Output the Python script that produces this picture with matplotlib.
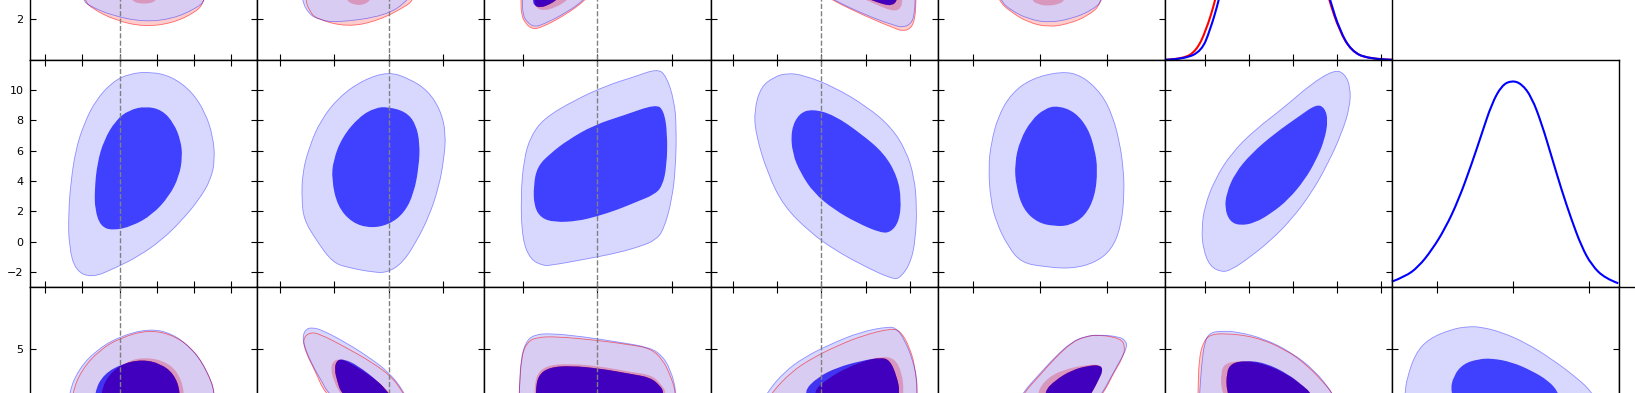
"""
Recorte de um triangle plot (estilo GetDist): duas cadeias, vermelho e azul.
Contornos 2D de 68%/95% lidos da figura como vértices; curvas 1D na diagonal.
"""

import numpy as np
import matplotlib
matplotlib.use("Agg")
import matplotlib.pyplot as plt
from matplotlib.path import Path
from matplotlib.patches import PathPatch

# ---------------------------------------------------------------- eixos
COL_XLIM = [(-0.408, 5.684), (-0.428, 3.758), (-0.525, 2.522), (-0.5, 4.636),
            (-0.524, 2.864), (1.075, 6.258), (-3.0, 12.0), (-3.0, 8.0)]
COL_XTICKS = [[0, 1, 2, 3, 4, 5], [0, 1, 2, 3], [0, 1, 2], [0, 1, 2, 3, 4],
              [0, 1, 2], [2, 3, 4, 5, 6], [0, 5, 10], [0, 5]]
ROW_YLIM = [(1.075, 6.258), (-3.0, 12.0), (-3.0, 8.0)]
ROW_YTICKS = [[2], [-2, 0, 2, 4, 6, 8, 10], [5]]   # só os que aparecem no recorte
TRUTH = [2, 2, 1, 2]          # linhas tracejadas nas colunas 1-4

# ---------------------------------------------------------------- linha de cima
T1_BLUE_OUT = [(4.49, 3.19), (4.31, 2.43), (4.04, 2.24), (3.42, 2.01), (2.66, 1.94), (1.81, 2.08),
               (1.23, 2.29), (1.00, 2.43), (0.87, 3.19), (1.81, 4.33), (2.66, 4.63), (3.60, 4.33)]
T1_RED_OUT = [(4.45, 3.19), (4.28, 2.39), (4.04, 2.16), (3.42, 1.91), (2.66, 1.83), (1.90, 1.97),
              (1.27, 2.24), (1.05, 2.43), (0.91, 3.19), (1.81, 4.33), (2.66, 4.63), (3.60, 4.33)]
T1_RED_IN = [(2.25, 2.43), (2.08, 3.04), (2.25, 3.64), (2.66, 3.87), (3.15, 3.64), (3.28, 3.04),
             (3.06, 2.43), (2.66, 2.33)]
T1_BLUE_IN = [(2.35, 2.55), (2.25, 3.0), (2.40, 3.55), (2.70, 3.80), (3.05, 3.55), (3.20, 3.0),
              (3.00, 2.55), (2.68, 2.47)]

T2_BLUE_OUT = [(2.69, 3.04), (2.37, 2.43), (1.95, 2.08), (1.05, 1.92), (0.72, 1.99), (0.53, 2.12),
               (0.40, 2.43), (0.38, 3.04), (0.78, 3.95), (1.52, 4.33), (2.32, 3.80)]
T2_RED_OUT = [(2.72, 3.04), (2.44, 2.43), (2.34, 2.31), (1.82, 1.97), (1.24, 1.82), (0.66, 2.01),
              (0.54, 2.20), (0.47, 2.43), (0.44, 3.04), (0.81, 3.95), (1.52, 4.33), (2.35, 3.80)]
T2_RED_IN = [(1.18, 2.43), (1.09, 3.04), (1.46, 3.57), (1.89, 3.04), (1.70, 2.43), (1.46, 2.29)]
T2_BLUE_IN = [(1.20, 2.60), (1.12, 3.04), (1.46, 3.50), (1.85, 3.04), (1.68, 2.55), (1.46, 2.47)]

T3_RED_OUT = [(0.84, 2.43), (0.55, 2.08), (0.26, 1.82), (0.13, 1.77), (0.04, 1.89), (-0.02, 2.08),
              (-0.03, 2.43), (-0.02, 3.19), (0.15, 4.33), (0.82, 5.32), (1.62, 5.32), (1.80, 4.33),
              (1.27, 3.19)]
T3_BLUE_OUT = [(0.82, 2.43), (0.55, 2.12), (0.28, 1.89), (0.15, 1.82), (0.06, 1.93), (0.00, 2.08),
               (-0.01, 2.43), (0.00, 3.19), (0.17, 4.30), (0.82, 5.28), (1.60, 5.28), (1.77, 4.33),
               (1.25, 3.19)]
T3_RED_IN = [(0.15, 2.43), (0.17, 2.26), (0.28, 2.19), (0.44, 2.27), (0.60, 2.43), (1.18, 3.34),
             (0.82, 3.95), (0.15, 3.04)]
T3_BLUE_IN = [(0.13, 2.43), (0.15, 2.31), (0.24, 2.26), (0.37, 2.35), (0.44, 2.43), (1.09, 3.26),
              (0.77, 3.87), (0.13, 3.04)]

T4_BLUE_OUT = [(2.29, 2.43), (3.04, 2.08), (3.64, 1.86), (3.87, 1.81), (4.06, 1.93), (4.11, 2.20),
               (4.12, 2.43), (4.14, 3.19), (3.42, 4.33), (1.91, 4.33), (1.15, 3.57), (1.53, 2.88)]
T4_RED_OUT = [(2.25, 2.43), (3.04, 2.05), (3.64, 1.80), (3.83, 1.73), (4.02, 1.78), (4.12, 2.01),
              (4.14, 2.43), (4.16, 3.19), (3.42, 4.36), (1.88, 4.36), (1.12, 3.57), (1.50, 2.88)]
T4_RED_IN = [(3.04, 2.43), (3.42, 2.25), (3.68, 2.18), (3.81, 2.27), (3.83, 2.43), (3.88, 2.88),
             (3.04, 3.57), (2.28, 3.19), (2.66, 2.58)]
T4_BLUE_IN = [(3.15, 2.43), (3.40, 2.34), (3.60, 2.31), (3.72, 2.43), (3.80, 2.88), (3.04, 3.50),
              (2.35, 3.15), (2.70, 2.60)]

T5_BLUE_OUT = [(1.94, 2.43), (1.77, 2.20), (1.47, 2.01), (1.12, 1.92), (0.82, 2.01), (0.57, 2.20),
               (0.40, 2.43), (0.27, 3.19), (0.47, 4.33), (1.12, 4.71), (1.72, 4.33), (2.01, 3.19)]
T5_RED_OUT = [(1.92, 2.35), (1.72, 2.08), (1.42, 1.89), (1.12, 1.82), (0.82, 1.93), (0.57, 2.16),
              (0.37, 2.43), (0.25, 3.19), (0.47, 4.35), (1.12, 4.73), (1.74, 4.35), (2.02, 3.19)]
T5_RED_IN = [(1.37, 2.43), (1.29, 2.35), (1.12, 2.30), (0.97, 2.34), (0.87, 2.43), (0.82, 2.88),
             (1.12, 3.42), (1.47, 2.88)]
T5_BLUE_IN = [(1.34, 2.58), (1.12, 2.46), (0.92, 2.58), (0.87, 3.04), (1.12, 3.50), (1.42, 3.04)]

# ---------------------------------------------------------------- linha do meio (só azul)
M1_OUT = [(2.85, 11.22), (3.42, 10.87), (3.95, 9.88), (4.31, 8.46), (4.51, 6.92), (4.56, 5.39),
          (4.45, 4.08), (4.13, 2.76), (3.69, 1.45), (3.15, 0.13), (2.52, -0.96), (1.90, -1.73),
          (1.27, -2.39), (0.82, -1.95), (0.64, -0.31), (0.63, 1.88), (0.69, 3.86), (0.82, 6.05),
          (1.05, 7.80), (1.36, 9.33), (1.81, 10.54), (2.25, 11.08)]
M1_IN = [(2.70, 8.94), (3.15, 8.68), (3.46, 7.80), (3.64, 6.70), (3.69, 5.61), (3.60, 4.29),
         (3.33, 2.98), (2.88, 1.77), (2.34, 1.01), (1.81, 0.72), (1.49, 1.01), (1.34, 2.10),
         (1.33, 3.42), (1.40, 5.17), (1.58, 6.70), (1.90, 8.02), (2.25, 8.68)]

M2_OUT = [(2.00, 11.22), (2.38, 10.76), (2.72, 9.99), (2.96, 8.68), (3.06, 7.14), (3.02, 5.39),
          (2.93, 3.64), (2.75, 1.67), (2.50, -0.09), (2.26, -1.40), (1.98, -2.06), (1.70, -2.02),
          (1.27, -1.73), (0.97, -1.40), (0.66, 0.13), (0.44, 1.45), (0.40, 2.76), (0.41, 4.51),
          (0.54, 6.27), (0.75, 8.02), (1.09, 9.55), (1.52, 10.65)]
M2_IN = [(2.00, 8.89), (2.32, 8.57), (2.50, 7.80), (2.58, 6.48), (2.56, 4.95), (2.47, 3.20),
         (2.29, 1.88), (2.01, 1.12), (1.67, 0.88), (1.33, 1.23), (1.06, 2.32), (0.95, 4.08),
         (0.98, 5.39), (1.15, 6.92), (1.46, 8.24), (1.76, 8.85)]

M3_OUT = [(1.80, 11.41), (1.92, 10.98), (2.03, 9.33), (2.06, 7.58), (2.05, 4.95), (2.00, 2.76),
          (1.89, 0.79), (1.78, 0.09), (1.58, -0.31), (1.27, -0.75), (0.82, -1.18), (0.37, -1.58),
          (0.26, -1.58), (0.10, -1.18), (-0.01, 0.13), (-0.03, 2.98), (0.01, 5.39), (0.10, 6.92),
          (0.28, 8.13), (0.69, 9.33), (1.13, 10.32), (1.49, 10.87)]
M3_IN = [(1.78, 9.07), (1.89, 8.68), (1.94, 7.14), (1.93, 4.95), (1.87, 3.64), (1.76, 3.09),
         (1.54, 2.65), (1.27, 2.10), (1.00, 1.67), (0.73, 1.34), (0.42, 1.27), (0.24, 1.56),
         (0.15, 2.32), (0.14, 3.64), (0.19, 4.95), (0.37, 5.83), (0.60, 6.70), (0.95, 7.69),
         (1.36, 8.35)]

M4_OUT = [(1.23, 11.13), (1.61, 10.98), (2.29, 10.21), (3.04, 8.89), (3.57, 7.58), (3.91, 6.05),
          (4.10, 4.29), (4.16, 2.32), (4.13, 0.13), (4.02, -1.40), (3.79, -2.39), (3.61, -2.50),
          (2.89, -1.51), (2.29, -0.53), (1.76, 0.57), (1.15, 2.32), (0.78, 4.51), (0.51, 7.14),
          (0.48, 8.68), (0.63, 10.21), (0.93, 10.87)]
M4_IN = [(1.80, 8.76), (2.29, 8.35), (2.89, 7.14), (3.42, 5.83), (3.72, 4.29), (3.81, 2.76),
         (3.76, 1.34), (3.57, 0.61), (3.34, 0.57), (2.81, 1.23), (2.29, 2.10), (1.83, 3.20),
         (1.53, 4.51), (1.34, 5.83), (1.31, 7.36), (1.49, 8.46)]

M5_OUT = [(1.32, 11.24), (1.62, 10.98), (1.92, 9.77), (2.09, 8.24), (2.19, 6.48), (2.24, 4.95),
          (2.26, 3.20), (2.21, 1.01), (2.07, -0.53), (1.82, -1.40), (1.47, -1.80), (1.07, -1.67),
          (0.72, -1.40), (0.52, -0.31), (0.35, 1.23), (0.26, 2.76), (0.23, 4.95), (0.27, 6.48),
          (0.37, 8.24), (0.57, 9.77), (0.87, 10.76)]
M5_IN = [(1.26, 8.98), (1.52, 8.57), (1.72, 7.47), (1.82, 6.05), (1.86, 4.73), (1.82, 2.98),
         (1.67, 1.67), (1.44, 1.05), (1.22, 1.01), (0.97, 1.23), (0.75, 2.10), (0.64, 3.64),
         (0.62, 5.17), (0.70, 6.70), (0.87, 8.02), (1.07, 8.78)]

M6_OUT = [(4.95, 11.35), (5.18, 11.08), (5.31, 10.21), (5.30, 8.89), (5.11, 7.14), (4.80, 5.17),
          (4.42, 3.20), (3.96, 1.45), (3.51, 0.13), (3.05, -0.96), (2.59, -1.88), (2.36, -2.02),
          (2.10, -1.62), (1.95, -0.53), (1.91, 0.79), (1.98, 2.32), (2.21, 4.08), (2.59, 5.83),
          (3.12, 7.36), (3.81, 8.89), (4.42, 10.43)]
M6_IN = [(4.53, 9.07), (4.72, 8.85), (4.80, 8.02), (4.72, 6.70), (4.53, 5.39), (4.27, 4.08),
         (3.89, 2.76), (3.51, 1.88), (3.13, 1.23), (2.78, 1.05), (2.55, 1.34), (2.44, 2.21),
         (2.48, 3.20), (2.67, 4.51), (3.05, 5.83), (3.58, 7.14), (4.12, 8.24)]

# ---------------------------------------------------------------- linha de baixo
B1_BLUE_OUT = [(4.54, 2.92), (4.47, 3.39), (4.27, 4.19), (3.95, 5.00), (3.42, 5.75), (2.79, 5.99),
               (1.99, 5.60), (1.36, 4.92), (0.91, 4.03), (0.64, 2.92), (0.55, 0.96), (1.36, -1.46),
               (3.15, -1.46), (4.58, 0.96)]
B1_RED_OUT = [(4.56, 2.92), (4.36, 3.87), (4.04, 4.84), (3.51, 5.63), (2.79, 5.94), (1.99, 5.52),
              (1.45, 4.92), (1.00, 4.03), (0.73, 2.92), (0.64, 0.96), (1.45, -1.46), (3.15, -1.46),
              (4.62, 0.96)]
B1_RED_IN = [(3.76, 2.92), (3.55, 3.95), (3.15, 4.46), (2.61, 4.60), (2.17, 4.37), (1.72, 3.79),
             (1.49, 2.92), (1.49, 1.28), (2.61, 0.15), (3.69, 1.28)]
B1_BLUE_IN = [(3.64, 2.92), (3.46, 3.79), (3.10, 4.29), (2.61, 4.49), (2.08, 4.29), (1.58, 3.79),
              (1.32, 2.92), (1.31, 1.28), (2.52, 0.15), (3.60, 1.28)]

B2_BLUE_OUT = [(0.60, 6.04), (0.78, 5.91), (1.21, 5.32), (1.64, 4.60), (2.01, 3.87), (2.29, 2.92),
               (2.50, 1.80), (2.60, 0.60), (2.40, 0.30), (1.90, 0.90), (1.30, 1.80), (0.87, 2.92),
               (0.78, 3.39), (0.60, 4.19), (0.44, 5.16), (0.42, 5.65), (0.48, 5.97)]
B2_RED_OUT = [(0.54, 5.80), (0.72, 5.75), (1.21, 5.08), (1.70, 4.35), (2.07, 3.63), (2.26, 2.92),
              (2.50, 1.80), (2.62, 0.55), (2.40, 0.25), (1.85, 0.90), (1.25, 1.80), (0.81, 2.92),
              (0.66, 3.87), (0.47, 4.84), (0.42, 5.49)]
B2_RED_IN = [(1.09, 4.52), (1.27, 4.37), (1.76, 3.55), (2.01, 2.92), (2.30, 2.10), (2.30, 1.30),
             (1.90, 1.50), (1.30, 2.20), (1.09, 2.92), (1.00, 3.39), (0.93, 4.03), (0.98, 4.42)]
B2_BLUE_IN = [(1.18, 4.51), (1.43, 4.21), (1.83, 3.39), (1.98, 2.92), (2.25, 2.10), (2.28, 1.40),
              (1.90, 1.50), (1.35, 2.20), (1.12, 2.92), (1.06, 3.39), (1.00, 4.03), (1.05, 4.47)]

B3_BLUE_OUT = [(-0.05, 2.92), (-0.03, 4.52), (0.04, 5.36), (0.15, 5.69), (0.37, 5.76), (0.82, 5.59),
               (1.27, 5.34), (1.67, 5.10), (1.85, 4.76), (1.98, 4.03), (2.06, 2.92), (2.08, 1.50),
               (1.90, 0.30), (1.00, 0.00), (0.10, 0.30), (-0.06, 1.50)]
B3_RED_OUT = [(-0.05, 2.92), (-0.02, 4.68), (0.06, 5.35), (0.19, 5.57), (0.46, 5.60), (1.00, 5.42),
              (1.49, 5.18), (1.71, 5.02), (1.87, 4.52), (1.98, 3.71), (2.05, 2.92), (2.07, 1.50),
              (1.90, 0.35), (1.00, 0.05), (0.10, 0.35), (-0.07, 1.50)]
B3_RED_IN = [(0.15, 2.92), (0.18, 3.79), (0.33, 4.22), (0.64, 4.29), (1.04, 4.16), (1.45, 3.89),
             (1.74, 3.73), (1.87, 3.22), (1.92, 2.92), (1.90, 2.00), (1.60, 1.30), (1.00, 1.20),
             (0.40, 1.40), (0.15, 2.00)]
B3_BLUE_IN = [(0.17, 2.92), (0.20, 3.71), (0.35, 4.11), (0.64, 4.19), (1.04, 4.05), (1.45, 3.79),
              (1.71, 3.62), (1.84, 3.22), (1.89, 2.92), (1.88, 2.00), (1.60, 1.35), (1.00, 1.25),
              (0.40, 1.45), (0.17, 2.00)]

B4_BLUE_OUT = [(0.78, 2.92), (1.15, 3.87), (1.61, 4.60), (2.21, 5.24), (2.89, 5.83), (3.53, 6.09),
               (3.70, 5.99), (3.87, 5.49), (4.06, 4.52), (4.16, 3.55), (4.17, 2.92), (4.15, 1.20),
               (3.80, 0.00), (3.00, -0.30), (1.80, 0.60), (0.60, 2.20)]
B4_RED_OUT = [(0.89, 2.92), (1.31, 3.87), (1.76, 4.52), (2.36, 5.16), (2.96, 5.67), (3.61, 6.01),
              (3.80, 5.83), (3.98, 5.16), (4.12, 4.19), (4.17, 2.92), (4.15, 1.20), (3.80, 0.05),
              (3.00, -0.25), (1.85, 0.65), (0.70, 2.25)]
B4_RED_IN = [(1.80, 2.92), (2.13, 3.55), (2.59, 4.11), (3.04, 4.46), (3.38, 4.64), (3.66, 4.54),
             (3.82, 3.87), (3.87, 2.92), (3.80, 2.00), (3.40, 1.60), (2.60, 1.80), (2.00, 2.30)]
B4_BLUE_IN = [(1.59, 2.92), (1.91, 3.63), (2.36, 4.11), (2.89, 4.42), (3.34, 4.59), (3.55, 4.46),
              (3.70, 3.71), (3.78, 2.92), (3.70, 2.00), (3.30, 1.60), (2.50, 1.80), (1.80, 2.30)]

B5_BLUE_OUT = [(0.75, 2.92), (0.97, 3.71), (1.22, 4.60), (1.47, 5.34), (1.67, 5.61), (1.87, 5.69),
               (2.18, 5.60), (2.28, 5.40), (2.30, 5.08), (2.21, 4.52), (2.07, 3.71), (1.94, 2.92),
               (1.70, 1.80), (1.30, 1.00), (0.80, 0.80), (0.50, 1.60)]
B5_RED_OUT = [(0.77, 2.92), (0.97, 3.63), (1.22, 4.55), (1.47, 5.31), (1.67, 5.60), (1.89, 5.69),
              (2.20, 5.51), (2.27, 5.16), (2.24, 4.60), (2.09, 3.79), (1.96, 2.92), (1.70, 1.80),
              (1.30, 1.00), (0.80, 0.80), (0.52, 1.60)]
B5_RED_IN = [(0.95, 2.92), (1.12, 3.63), (1.37, 4.02), (1.67, 4.22), (1.89, 4.26), (1.94, 4.00),
             (1.88, 3.55), (1.79, 2.92), (1.60, 2.00), (1.30, 1.70), (1.00, 2.10)]
B5_BLUE_IN = [(1.06, 2.92), (1.22, 3.47), (1.47, 3.97), (1.72, 4.19), (1.90, 4.22), (1.94, 3.95),
              (1.87, 3.47), (1.78, 2.92), (1.60, 2.00), (1.35, 1.75), (1.10, 2.10)]

B6_BLUE_OUT = [(1.87, 2.92), (1.91, 4.19), (1.98, 5.34), (2.10, 5.79), (2.36, 5.87), (2.74, 5.83),
               (3.35, 5.49), (3.96, 4.84), (4.50, 3.95), (4.88, 2.92), (5.10, 2.00), (5.00, 1.30),
               (4.30, 1.00), (3.00, 1.00), (2.10, 1.60), (1.85, 2.30)]
B6_RED_OUT = [(1.83, 2.92), (1.85, 4.52), (1.95, 5.34), (2.10, 5.69), (2.44, 5.76), (3.13, 5.59),
              (3.81, 5.00), (4.34, 4.19), (4.76, 3.22), (4.88, 2.92), (5.10, 2.00), (5.00, 1.30),
              (4.30, 1.00), (3.00, 1.00), (2.10, 1.60), (1.82, 2.30)]
B6_RED_IN = [(2.36, 2.92), (2.35, 3.87), (2.44, 4.30), (2.74, 4.42), (3.20, 4.37), (3.81, 3.87),
             (4.27, 3.14), (4.38, 2.92), (4.50, 2.50), (4.30, 2.10), (3.40, 2.00), (2.60, 2.20)]
B6_BLUE_IN = [(2.48, 2.92), (2.48, 3.87), (2.59, 4.30), (2.90, 4.44), (3.35, 4.34), (3.89, 3.79),
              (4.27, 3.14), (4.38, 2.92), (4.50, 2.50), (4.30, 2.10), (3.40, 2.00), (2.65, 2.20)]

B7_BLUE_OUT = [(-2.13, 2.92), (-2.02, 3.55), (-1.47, 4.76), (-0.59, 5.49), (0.95, 5.96), (2.05, 6.09),
               (2.93, 6.06), (4.25, 5.81), (5.79, 5.32), (7.55, 4.52), (9.31, 3.55), (10.19, 2.92),
               (11.00, 2.00), (10.50, 0.50), (8.00, -0.50), (4.00, -0.50), (0.00, 0.00),
               (-2.30, 1.50)]
B7_BLUE_IN = [(0.84, 2.92), (1.06, 3.71), (1.72, 4.29), (2.71, 4.51), (3.59, 4.55), (4.91, 4.37),
              (6.23, 3.95), (7.33, 3.47), (7.99, 2.92), (8.30, 2.20), (7.00, 1.30), (4.00, 1.20),
              (1.50, 1.80)]

# ---------------------------------------------------------------- curvas 1D (diagonal)
TOP1D_X_BLUE = [1.08, 1.53, 1.91, 2.10, 2.31, 2.60, 3.00, 3.57, 4.10, 4.50, 4.84, 5.07, 5.33, 5.71, 6.26]
TOP1D_P_BLUE = [0.0, 0.004, 0.043, 0.14, 0.29, 0.55, 0.85, 1.0, 0.85, 0.55, 0.29, 0.14, 0.043, 0.004, 0.0]
TOP1D_X_RED = [1.08, 1.49, 1.79, 2.01, 2.23, 2.52, 2.95, 3.55, 4.08, 4.48, 4.82, 5.06, 5.33, 5.71, 6.26]
TOP1D_P_RED = [0.0, 0.004, 0.043, 0.14, 0.29, 0.55, 0.85, 1.0, 0.85, 0.55, 0.29, 0.14, 0.043, 0.004, 0.0]

MID1D_X = [-3.01, -2.13, -1.25, -0.37, 0.51, 1.39, 2.27, 2.93, 3.59, 4.25, 4.91, 5.57, 6.23,
           6.89, 7.55, 8.21, 8.87, 9.53, 10.19, 11.07, 11.95]
MID1D_P = [0.026, 0.050, 0.098, 0.179, 0.283, 0.420, 0.597, 0.742, 0.887, 0.976, 1.0, 0.984,
           0.919, 0.791, 0.630, 0.469, 0.324, 0.195, 0.106, 0.042, 0.018]

PANELS = {
    (0, 0): [("red", T1_RED_OUT, T1_RED_IN), ("blue", T1_BLUE_OUT, T1_BLUE_IN)],
    (0, 1): [("red", T2_RED_OUT, T2_RED_IN), ("blue", T2_BLUE_OUT, T2_BLUE_IN)],
    (0, 2): [("red", T3_RED_OUT, T3_RED_IN), ("blue", T3_BLUE_OUT, T3_BLUE_IN)],
    (0, 3): [("red", T4_RED_OUT, T4_RED_IN), ("blue", T4_BLUE_OUT, T4_BLUE_IN)],
    (0, 4): [("red", T5_RED_OUT, T5_RED_IN), ("blue", T5_BLUE_OUT, T5_BLUE_IN)],
    (1, 0): [("blue", M1_OUT, M1_IN)],
    (1, 1): [("blue", M2_OUT, M2_IN)],
    (1, 2): [("blue", M3_OUT, M3_IN)],
    (1, 3): [("blue", M4_OUT, M4_IN)],
    (1, 4): [("blue", M5_OUT, M5_IN)],
    (1, 5): [("blue", M6_OUT, M6_IN)],
    (2, 0): [("red", B1_RED_OUT, B1_RED_IN), ("blue", B1_BLUE_OUT, B1_BLUE_IN)],
    (2, 1): [("red", B2_RED_OUT, B2_RED_IN), ("blue", B2_BLUE_OUT, B2_BLUE_IN)],
    (2, 2): [("red", B3_RED_OUT, B3_RED_IN), ("blue", B3_BLUE_OUT, B3_BLUE_IN)],
    (2, 3): [("red", B4_RED_OUT, B4_RED_IN), ("blue", B4_BLUE_OUT, B4_BLUE_IN)],
    (2, 4): [("red", B5_RED_OUT, B5_RED_IN), ("blue", B5_BLUE_OUT, B5_BLUE_IN)],
    (2, 5): [("red", B6_RED_OUT, B6_RED_IN), ("blue", B6_BLUE_OUT, B6_BLUE_IN)],
    (2, 6): [("blue", B7_BLUE_OUT, B7_BLUE_IN)],
}
DIAG_COL = [5, 6, 7]    # coluna da curva 1D em cada linha

STYLE = {
    "red": dict(outer="#ffcccc", inner="#ff0000", alpha=1.0, edge="#ff0000", edge_alpha=0.55),
    "blue": dict(outer="#ccccff", inner="#0000ff", alpha=0.75, edge="#0000ff", edge_alpha=0.4),
}


def _orient(pts, ccw):
    p = np.asarray(pts, float)
    area = np.sum(p[:, 0] * np.roll(p[:, 1], -1) - np.roll(p[:, 0], -1) * p[:, 1])
    return p if (area > 0) == ccw else p[::-1]


def smooth_path(pts, closed=True):
    """B-spline quadrática com os vértices lidos como pontos de controle."""
    p = np.asarray(pts, float)
    if closed:
        mids = (p + np.roll(p, -1, axis=0)) / 2
        verts, codes = [mids[-1]], [Path.MOVETO]
        for i in range(len(p)):
            verts += [p[i], mids[i]]
            codes += [Path.CURVE3, Path.CURVE3]
        verts.append(mids[-1])
        codes.append(Path.CLOSEPOLY)
    else:
        verts, codes = [p[0]], [Path.MOVETO]
        for i in range(1, len(p) - 1):
            end = p[i + 1] if i == len(p) - 2 else (p[i] + p[i + 1]) / 2
            verts += [p[i], end]
            codes += [Path.CURVE3, Path.CURVE3]
    return Path(verts, codes)


def draw_chain(ax, chain, outer, inner):
    st = STYLE[chain]
    out_p = smooth_path(_orient(outer, True))
    in_p = smooth_path(_orient(inner, True))
    hole = smooth_path(_orient(inner, False))
    ring = Path.make_compound_path(out_p, hole)
    ax.add_patch(PathPatch(ring, facecolor=st["outer"], edgecolor="none",
                           alpha=st["alpha"], zorder=1))
    ax.add_patch(PathPatch(in_p, facecolor=st["inner"], edgecolor="none",
                           alpha=st["alpha"], zorder=1))
    return out_p


def style_axes(ax, r, c, diag=False):
    ax.set_xlim(*COL_XLIM[c])
    ax.set_xticks(COL_XTICKS[c])
    for sp in ax.spines.values():
        sp.set_linewidth(1.0)
    if diag:
        ax.set_ylim(0, 1.1)
        ax.set_yticks([])
        ax.tick_params(axis="x", direction="in", length=4, width=0.8,
                       top=False, labelbottom=False)
    else:
        ax.set_ylim(*ROW_YLIM[r])
        ax.set_yticks(ROW_YTICKS[r])
        ax.tick_params(direction="in", length=4, width=0.8, top=True, right=True,
                       labelbottom=False, labelleft=(c == 0), labelsize=8, pad=4.5)


fig = plt.figure(figsize=(16.35, 3.93), dpi=100)
W, H = 1635.0, 393.0
LEFT0, STEP, SIZE = 29.8, 227.03, 227.2
ROW_BOTTOM = [59.8, 287.0, 514.2]       # borda inferior de cada linha, px a partir do topo

for r in range(3):
    for c in range(DIAG_COL[r] + 1):
        ax = fig.add_axes([(LEFT0 + c * STEP) / W, (H - ROW_BOTTOM[r]) / H, STEP / W, SIZE / H])
        diag = c == DIAG_COL[r]
        style_axes(ax, r, c, diag)
        if diag:
            if r == 0:
                ax.add_patch(PathPatch(smooth_path(list(zip(TOP1D_X_RED, TOP1D_P_RED)), False),
                                       fill=False, edgecolor="red", lw=1.5))
                ax.add_patch(PathPatch(smooth_path(list(zip(TOP1D_X_BLUE, TOP1D_P_BLUE)), False),
                                       fill=False, edgecolor="blue", lw=1.5))
            elif r == 1:
                ax.add_patch(PathPatch(smooth_path(list(zip(MID1D_X, MID1D_P)), False),
                                       fill=False, edgecolor="blue", lw=1.5, clip_on=False))
            continue
        edges = []
        for chain, outer, inner in PANELS[(r, c)]:
            edges.append((chain, draw_chain(ax, chain, outer, inner)))
        for chain, path in edges:
            st = STYLE[chain]
            ax.add_patch(PathPatch(path, fill=False, edgecolor=st["edge"],
                                   alpha=st["edge_alpha"], lw=0.6, zorder=2))
        if c < len(TRUTH):
            ax.axvline(TRUTH[c], color="gray", ls="--", lw=1.0, zorder=3)

fig.savefig("out.png", dpi=100)
